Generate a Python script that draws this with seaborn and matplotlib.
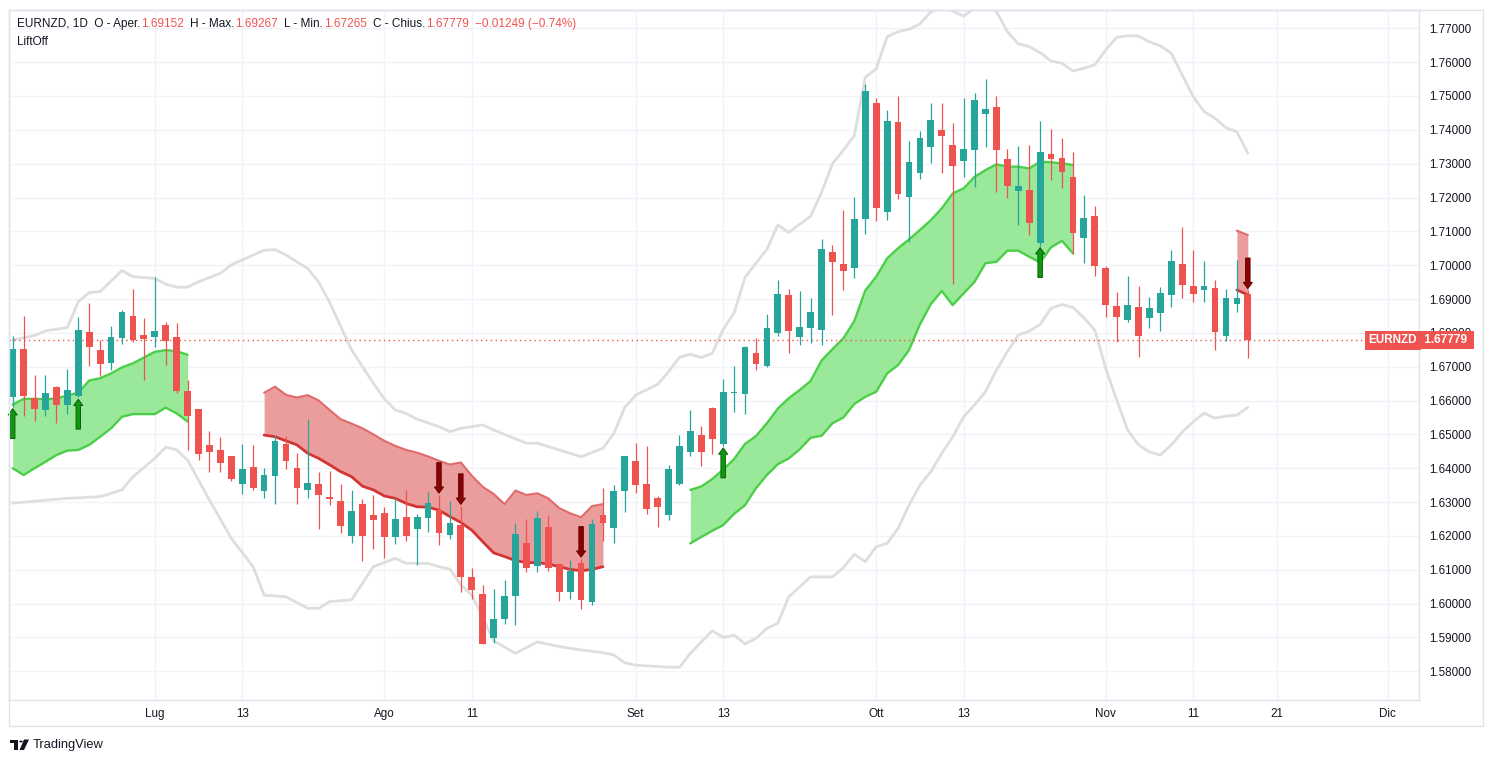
import numpy as np
import pandas as pd
import matplotlib
matplotlib.use('Agg')
import matplotlib.pyplot as plt
import matplotlib.transforms as mtransforms
from matplotlib.patches import Rectangle, Polygon, Circle
import seaborn as sns

# EURNZD daily bars, 14 Jun - 18 Nov 2022
dates = pd.bdate_range('2022-06-14', '2022-11-18')

opens = [1.6611, 1.6752, 1.6607, 1.6573, 1.6640, 1.6588, 1.6614, 1.6803, 1.6749, 1.6712,
         1.6786, 1.6850, 1.6794, 1.6788, 1.6823, 1.6788, 1.6628, 1.6575, 1.6469, 1.6454,
         1.6436, 1.6352, 1.6404, 1.6334, 1.6378, 1.6472, 1.6401, 1.6337, 1.6353, 1.6316,
         1.6304, 1.6201, 1.6295, 1.6263, 1.6269, 1.6198, 1.6257, 1.6221, 1.6254, 1.6278,
         1.6204, 1.6233, 1.6080, 1.6029, 1.5899, 1.5955, 1.6023, 1.6179, 1.6112, 1.6226,
         1.6118, 1.6035, 1.6120, 1.6006, 1.6262, 1.6224, 1.6334, 1.6420, 1.6353, 1.6312,
         1.6263, 1.6353, 1.6449, 1.6498, 1.6578, 1.6472, 1.6622, 1.6620, 1.6740, 1.6703,
         1.6801, 1.6912, 1.6789, 1.6815, 1.6809, 1.7039, 1.7003, 1.6993, 1.7137, 1.7479,
         1.7158, 1.7423, 1.7202, 1.7273, 1.7350, 1.7399, 1.7355, 1.7309, 1.7341, 1.7448,
         1.7467, 1.7314, 1.7220, 1.7222, 1.7067, 1.7329, 1.7317, 1.7261, 1.7080, 1.7145,
         1.6992, 1.6879, 1.6839, 1.6876, 1.6845, 1.6860, 1.6913, 1.7004, 1.6939, 1.6928,
         1.6933, 1.6792, 1.6886, 1.69152]
highs = [1.6790, 1.6850, 1.6676, 1.6676, 1.6644, 1.6693, 1.6846, 1.6888, 1.6779, 1.6820,
         1.6868, 1.6930, 1.6844, 1.6965, 1.6833, 1.6829, 1.6661, 1.6575, 1.6510, 1.6492,
         1.6436, 1.6472, 1.6469, 1.6401, 1.6498, 1.6495, 1.6445, 1.6546, 1.6389, 1.6392,
         1.6353, 1.6337, 1.6310, 1.6322, 1.6286, 1.6313, 1.6337, 1.6266, 1.6331, 1.6322,
         1.6304, 1.6289, 1.6105, 1.6056, 1.6044, 1.6071, 1.6238, 1.6250, 1.6274, 1.6262,
         1.6118, 1.6129, 1.6133, 1.6250, 1.6342, 1.6350, 1.6437, 1.6474, 1.6466, 1.6318,
         1.6410, 1.6498, 1.6572, 1.6525, 1.6581, 1.6664, 1.6702, 1.6760, 1.6786, 1.6856,
         1.6956, 1.6930, 1.6924, 1.6903, 1.7077, 1.7060, 1.7163, 1.7201, 1.7535, 1.7494,
         1.7459, 1.7500, 1.7367, 1.7397, 1.7479, 1.7479, 1.7420, 1.7494, 1.7509, 1.7550,
         1.7500, 1.7343, 1.7352, 1.7355, 1.7426, 1.7402, 1.7376, 1.7334, 1.7207, 1.7175,
         1.6999, 1.6921, 1.6968, 1.6939, 1.6906, 1.6936, 1.7045, 1.7113, 1.7045, 1.7012,
         1.6956, 1.6930, 1.7015, 1.69267]
lows = [1.6582, 1.6555, 1.6541, 1.6555, 1.6535, 1.6561, 1.6610, 1.6703, 1.6673, 1.6691,
        1.6768, 1.6774, 1.6661, 1.6758, 1.6705, 1.6623, 1.6454, 1.6425, 1.6389, 1.6389,
        1.6363, 1.6324, 1.6337, 1.6313, 1.6295, 1.6398, 1.6295, 1.6313, 1.6221, 1.6292,
        1.6210, 1.6180, 1.6127, 1.6162, 1.6136, 1.6177, 1.6186, 1.6115, 1.6213, 1.6174,
        1.6192, 1.6035, 1.6015, 1.5880, 1.5885, 1.5941, 1.5938, 1.6094, 1.6094, 1.6097,
        1.6009, 1.6015, 1.5985, 1.5997, 1.6186, 1.6180, 1.6272, 1.6328, 1.6266, 1.6227,
        1.6248, 1.6350, 1.6436, 1.6408, 1.6443, 1.6466, 1.6567, 1.6561, 1.6691, 1.6700,
        1.6792, 1.6741, 1.6765, 1.6771, 1.6765, 1.6854, 1.6927, 1.6963, 1.7093, 1.7131,
        1.7135, 1.7197, 1.7070, 1.7256, 1.7303, 1.7273, 1.6945, 1.7262, 1.7232, 1.7350,
        1.7217, 1.7200, 1.7120, 1.7090, 1.7058, 1.7253, 1.7229, 1.7034, 1.7006, 1.6969,
        1.6848, 1.6774, 1.6833, 1.6730, 1.6815, 1.6807, 1.6877, 1.6904, 1.6892, 1.6892,
        1.6750, 1.6777, 1.6863, 1.67265]
closes = [1.6752, 1.6614, 1.6576, 1.6622, 1.6588, 1.6631, 1.6808, 1.6759, 1.6709, 1.6788,
          1.6862, 1.6779, 1.6783, 1.6806, 1.6777, 1.6628, 1.6555, 1.6442, 1.6448, 1.6416,
          1.6369, 1.6398, 1.6343, 1.6380, 1.6481, 1.6422, 1.6343, 1.6356, 1.6322, 1.6310,
          1.6230, 1.6275, 1.6201, 1.6248, 1.6198, 1.6250, 1.6201, 1.6257, 1.6298, 1.6210,
          1.6238, 1.6080, 1.6041, 1.5882, 1.5954, 1.6023, 1.6206, 1.6106, 1.6253, 1.6106,
          1.6035, 1.6096, 1.6012, 1.6235, 1.6239, 1.6333, 1.6436, 1.6349, 1.6280, 1.6286,
          1.6398, 1.6466, 1.6510, 1.6449, 1.6487, 1.6625, 1.6624, 1.6758, 1.6709, 1.6814,
          1.6915, 1.6806, 1.6817, 1.6862, 1.7048, 1.7010, 1.6984, 1.7136, 1.7515, 1.7170,
          1.7426, 1.7211, 1.7305, 1.7376, 1.7429, 1.7383, 1.7294, 1.7343, 1.7488, 1.7462,
          1.7341, 1.7235, 1.7234, 1.7126, 1.7334, 1.7315, 1.7276, 1.7096, 1.7139, 1.6999,
          1.6883, 1.6848, 1.6882, 1.6792, 1.6873, 1.6918, 1.7012, 1.6942, 1.6916, 1.6939,
          1.6804, 1.6903, 1.6903, 1.67779]

# grey envelope (knots: bar number, price)
env_upper_bars = [0, 2, 3, 5, 6, 7, 8, 10, 11, 13, 14, 15, 16, 17, 19, 20, 22, 23, 24, 25,
                  26, 27, 28, 29, 30, 31, 32, 33, 34, 35, 36, 37, 39, 40, 41, 43, 44, 47, 48, 50,
                  52, 54, 55, 56, 57, 59, 60, 61, 62, 63, 64, 65, 66, 67, 68, 69, 70, 71, 73, 74,
                  75, 76, 77, 78, 79, 80, 81, 82, 83, 84, 85, 86, 87, 88, 89, 90, 91, 92, 93, 94,
                  95, 96, 97, 98, 99, 100, 101, 102, 103, 104, 105, 106, 107, 108, 109, 110, 111,
                  112, 113]
env_upper = [1.6779, 1.6792, 1.6806, 1.6816, 1.6892, 1.6919, 1.6922, 1.6984, 1.6966, 1.6961,
             1.6944, 1.6935, 1.6935, 1.6951, 1.6976, 1.7001, 1.7030, 1.7044, 1.7046, 1.7030,
             1.7010, 1.6990, 1.6950, 1.6890, 1.6820, 1.6750, 1.6700, 1.6651, 1.6605, 1.6572,
             1.6562, 1.6545, 1.6523, 1.6508, 1.6518, 1.6528, 1.6513, 1.6474, 1.6474, 1.6454,
             1.6434, 1.6459, 1.6503, 1.6580, 1.6616, 1.6648, 1.6685, 1.6728, 1.6737, 1.6727,
             1.6740, 1.6810, 1.6859, 1.6964, 1.7006, 1.7047, 1.7119, 1.7097, 1.7145, 1.7215,
             1.7300, 1.7340, 1.7383, 1.7555, 1.7580, 1.7675, 1.7690, 1.7697, 1.7713, 1.7749,
             1.7762, 1.7751, 1.7736, 1.7760, 1.7775, 1.7750, 1.7690, 1.7654, 1.7646, 1.7628,
             1.7603, 1.7597, 1.7574, 1.7582, 1.7592, 1.7636, 1.7673, 1.7678, 1.7677, 1.7660,
             1.7648, 1.7626, 1.7562, 1.7498, 1.7454, 1.7434, 1.7406, 1.7394, 1.7331]
env_lower_bars = [0, 5, 8, 10, 11, 13, 14, 15, 16, 17, 18, 20, 22, 23, 25, 27, 28, 29, 31, 32,
                  33, 35, 36, 38, 39, 40, 41, 42, 43, 44, 46, 48, 50, 52, 54, 55, 56, 57, 60, 61,
                  62, 64, 65, 66, 67, 68, 69, 70, 71, 73, 75, 76, 77, 78, 79, 80, 81, 82, 83, 84,
                  85, 86, 87, 88, 89, 90, 91, 92, 93, 94, 95, 96, 97, 98, 99, 100, 101, 102, 103,
                  104, 105, 106, 107, 108, 109, 110, 111, 112, 113]
env_lower = [1.6297, 1.6311, 1.6316, 1.6336, 1.6375, 1.6429, 1.6462, 1.6454, 1.6424, 1.6365,
             1.6306, 1.6193, 1.6109, 1.6025, 1.6020, 1.5986, 1.5986, 1.6006, 1.6011, 1.6060,
             1.6109, 1.6134, 1.6119, 1.6119, 1.6109, 1.6102, 1.6055, 1.6025, 1.5960, 1.5890,
             1.5853, 1.5887, 1.5873, 1.5863, 1.5855, 1.5848, 1.5825, 1.5818, 1.5812, 1.5812,
             1.5853, 1.5920, 1.5900, 1.5907, 1.5881, 1.5897, 1.5927, 1.5942, 1.6020, 1.6079,
             1.6079, 1.6106, 1.6146, 1.6124, 1.6168, 1.6178, 1.6222, 1.6291, 1.6350, 1.6390,
             1.6444, 1.6493, 1.6552, 1.6587, 1.6626, 1.6690, 1.6744, 1.6794, 1.6805, 1.6825,
             1.6873, 1.6884, 1.6875, 1.6845, 1.6808, 1.6695, 1.6602, 1.6513, 1.6469, 1.6448,
             1.6439, 1.6469, 1.6507, 1.6537, 1.6563, 1.6548, 1.6554, 1.6557, 1.6580]

# LiftOff band segments (first bar, upper edge, lower edge)
bull1_start = 0
bull1_upper = [1.6588, 1.6605, 1.6605, 1.6604, 1.6606, 1.6615, 1.6623, 1.6659, 1.6666, 1.6680,
               1.6698, 1.6710, 1.6727, 1.6744, 1.6749, 1.6746, 1.6735]
bull1_lower = [1.6400, 1.6380, 1.6400, 1.6419, 1.6439, 1.6452, 1.6454, 1.6469, 1.6493, 1.6518,
               1.6552, 1.6560, 1.6560, 1.6560, 1.6579, 1.6562, 1.6538]
bear1_start = 23
bear1_upper = [1.6623, 1.6641, 1.6617, 1.6609, 1.6616, 1.6600, 1.6572, 1.6545, 1.6532, 1.6518,
               1.6500, 1.6481, 1.6466, 1.6454, 1.6446, 1.6435, 1.6422, 1.6411, 1.6417, 1.6378,
               1.6345, 1.6324, 1.6294, 1.6334, 1.6321, 1.6326, 1.6311, 1.6282, 1.6267, 1.6255,
               1.6288, 1.6294]
bear1_lower = [1.6498, 1.6493, 1.6481, 1.6469, 1.6444, 1.6429, 1.6410, 1.6390, 1.6375, 1.6347,
               1.6336, 1.6318, 1.6311, 1.6296, 1.6286, 1.6285, 1.6276, 1.6257, 1.6240, 1.6217,
               1.6183, 1.6150, 1.6139, 1.6127, 1.6121, 1.6121, 1.6117, 1.6109, 1.6101, 1.6097,
               1.6101, 1.6109]
bull2_start = 62
bull2_upper = [1.6336, 1.6346, 1.6368, 1.6396, 1.6427, 1.6472, 1.6495, 1.6533, 1.6576, 1.6607,
               1.6631, 1.6658, 1.6718, 1.6752, 1.6784, 1.6835, 1.6925, 1.6966, 1.7020, 1.7050,
               1.7076, 1.7104, 1.7133, 1.7168, 1.7212, 1.7227, 1.7261, 1.7281, 1.7298, 1.7291,
               1.7291, 1.7286, 1.7306, 1.7304, 1.7301, 1.7296]
bull2_lower = [1.6178, 1.6197, 1.6215, 1.6232, 1.6265, 1.6291, 1.6341, 1.6380, 1.6412, 1.6429,
               1.6456, 1.6490, 1.6496, 1.6533, 1.6550, 1.6590, 1.6611, 1.6626, 1.6680, 1.6705,
               1.6749, 1.6825, 1.6885, 1.6924, 1.6882, 1.6917, 1.6951, 1.7006, 1.7010, 1.7043,
               1.7043, 1.7025, 1.7008, 1.7053, 1.7072, 1.7035]
bear2_start = 112
bear2_upper = [1.7102, 1.7089]
bear2_lower = [1.6927, 1.6912]

buy_bars = [0, 6, 65, 94]
sell_bars = [39, 41, 52, 113]

tick_dates = ['2022-07-01', '2022-07-13', '2022-08-01', '2022-08-11', '2022-09-01',
              '2022-09-13', '2022-10-03', '2022-10-13', '2022-11-01', '2022-11-11']
tick_labels = ['Lug', '13', 'Ago', '11', 'Set', '13', 'Ott', '13', 'Nov', '11', '21', 'Dic']
price_ticks = [1.58, 1.59, 1.60, 1.61, 1.62, 1.63, 1.64, 1.65, 1.66, 1.67,
               1.68, 1.69, 1.70, 1.71, 1.72, 1.73, 1.74, 1.75, 1.76, 1.77]

UP = '#26a69a'
DOWN = '#ef5350'
TXT = '#131722'
GRID = '#f0f3fa'
BORDER = '#e0e3eb'

sns.set_theme(style='white')
plt.rcParams['font.family'] = ['Liberation Sans', 'DejaVu Sans']

W, H = 1493, 762
fig = plt.figure(figsize=(W / 100, H / 100), dpi=100)
fig.patch.set_facecolor('white')
ax = fig.add_axes([8.6 / W, 1 - 699.5 / H, (1419 - 8.6) / W, (699.5 - 10) / H])
ax.set_facecolor('white')

# envelope lines
sns.lineplot(x=env_upper_bars, y=env_upper, ax=ax, color='#dedede', lw=2,
             estimator=None, sort=False, legend=False, zorder=1)
sns.lineplot(x=env_lower_bars, y=env_lower, ax=ax, color='#dedede', lw=2,
             estimator=None, sort=False, legend=False, zorder=1)


def draw_band(start, upper, lower, bull):
    xs = np.arange(start, start + len(upper))
    if bull:
        ax.fill_between(xs, lower, upper, color='#9ae89a', lw=0, zorder=2)
        sns.lineplot(x=xs, y=upper, ax=ax, color='#4ccf48', lw=1.7, legend=False, zorder=3)
        sns.lineplot(x=xs, y=lower, ax=ax, color='#4ccf48', lw=1.7, legend=False, zorder=3)
    else:
        ax.fill_between(xs, lower, upper, color='#eb9c9c', lw=0, zorder=2)
        sns.lineplot(x=xs, y=upper, ax=ax, color='#e06b6b', lw=1.5, legend=False, zorder=3)
        sns.lineplot(x=xs, y=lower, ax=ax, color='#d43434', lw=2.0, legend=False, zorder=3)


draw_band(bull1_start, bull1_upper, bull1_lower, True)
draw_band(bear1_start, bear1_upper, bear1_lower, False)
draw_band(bull2_start, bull2_upper, bull2_lower, True)
draw_band(bear2_start, bear2_upper, bear2_lower, False)

# candles
x = np.arange(len(dates))
o, h, l, c = (np.array(v) for v in (opens, highs, lows, closes))
cols = np.where(c >= o, UP, DOWN)
ax.vlines(x, l, h, colors=cols, lw=0.9, zorder=4)
ax.bar(x, np.maximum(np.abs(c - o), 0.0003), bottom=np.minimum(o, c), width=0.62,
       color=cols, lw=0, zorder=5)

# signal arrows
arrow_style = 'simple,head_length=0.45,head_width=0.65,tail_width=0.32'
for i in buy_bars:
    ax.annotate('', xy=(i, lows[i]), xytext=(0, -23), textcoords='offset points',
                arrowprops=dict(arrowstyle=arrow_style, fc='#0d9a0d', ec='#0a5c0a', lw=0.7,
                                shrinkA=0, shrinkB=1.5, mutation_scale=10), zorder=7)
for i in sell_bars:
    ax.annotate('', xy=(i, highs[i]), xytext=(0, 23), textcoords='offset points',
                arrowprops=dict(arrowstyle=arrow_style, fc='#8b0000', ec='#5e0000', lw=0.7,
                                shrinkA=0, shrinkB=1, mutation_scale=10), zorder=7)

# last price line and labels
last = closes[-1]
ax.axhline(last, color=DOWN, lw=1, ls=(0, (1, 2.5)), zorder=3.5)
trans = mtransforms.blended_transform_factory(ax.transAxes, ax.transData)
ax.text(0.9986, last, 'EURNZD', transform=trans, ha='right', va='center', color='white',
        fontsize=8.4, fontweight='bold', clip_on=False, zorder=10,
        bbox=dict(boxstyle='square,pad=0.3', fc=DOWN, ec='none'))
ax.text(1.0017, last, ' %.5f ' % last, transform=trans, ha='left', va='center', color='white',
        fontsize=8.6, fontweight='bold', clip_on=False, zorder=10,
        bbox=dict(boxstyle='square,pad=0.25', fc=DOWN, ec='none'))

# axes, ticks, grid
ax.set_xlim(-0.375, 128.66)
ax.set_ylim(1.57166, 1.77541)
tick_pos = [dates.get_loc(pd.Timestamp(d)) for d in tick_dates] + [115.7, 125.8]
ax.set_xticks(tick_pos)
ax.set_xticklabels(tick_labels)
ax.set_yticks(price_ticks)
ax.set_yticklabels(['%.5f' % v for v in price_ticks])
ax.yaxis.tick_right()
ax.tick_params(axis='y', length=0, pad=7, labelsize=8.4, labelcolor=TXT)
ax.tick_params(axis='x', length=0, pad=6, labelsize=8.4, labelcolor=TXT)
for lab in ax.get_xticklabels():
    lab.set_fontfamily(['Liberation Sans Narrow', 'Liberation Sans'])
ax.grid(True, color=GRID, lw=1)
ax.set_axisbelow(True)
for s in ax.spines.values():
    s.set_color(BORDER)
    s.set_linewidth(1)
ax.set_xlabel('')
ax.set_ylabel('')

# outer frame
fig.add_artist(Rectangle((8.6 / W, 1 - 726 / H), (1482.7 - 8.6) / W, (726 - 10) / H,
                         transform=fig.transFigure, fill=False, ec=BORDER, lw=1))

# legend line at the top, pieces chained one after another
renderer = fig.canvas.get_renderer()
header = [('EURNZD, 1D  O - Aper.', TXT, 0.5), ('1.69152', DOWN, 6.5),
          ('H - Max.', TXT, 0.5), ('1.69267', DOWN, 6.5), ('L - Min.', TXT, 0.5),
          ('1.67265', DOWN, 6.5), ('C - Chius.', TXT, 0.5), ('1.67779', DOWN, 6.5),
          ('\u22120.01249 (\u22120.74%)', DOWN, 0)]
xpos = 17.0
for txt, col, gap in header:
    t = fig.text(xpos / W, 1 - 24 / H, txt, color=col, fontsize=8.45, ha='left', va='center')
    xpos = t.get_window_extent(renderer).x1 + gap
fig.text(17 / W, 1 - 42 / H, 'LiftOff', color=TXT, fontsize=8.45, ha='left', va='center')

# TradingView mark
logo = '#131722'
fig.add_artist(Rectangle((10 / W, 1 - 743 / H), 8 / W, 3.5 / H, transform=fig.transFigure,
                         fc=logo, ec='none'))
fig.add_artist(Rectangle((13.5 / W, 1 - 750 / H), 4.5 / W, 8 / H, transform=fig.transFigure,
                         fc=logo, ec='none'))
fig.add_artist(Circle((21 / W, 1 - 741.5 / H), 1.8 / W, transform=fig.transFigure,
                      fc=logo, ec='none'))
fig.add_artist(Polygon([(24 / W, 1 - 739.5 / H), (29 / W, 1 - 739.5 / H),
                        (24 / W, 1 - 750 / H), (19.5 / W, 1 - 750 / H)],
                       closed=True, transform=fig.transFigure, fc=logo, ec='none'))
fig.text(33 / W, 1 - 745 / H, 'TradingView', color=TXT, fontsize=9.3, ha='left', va='center')

fig.savefig('out.png', dpi=100, facecolor='white')
